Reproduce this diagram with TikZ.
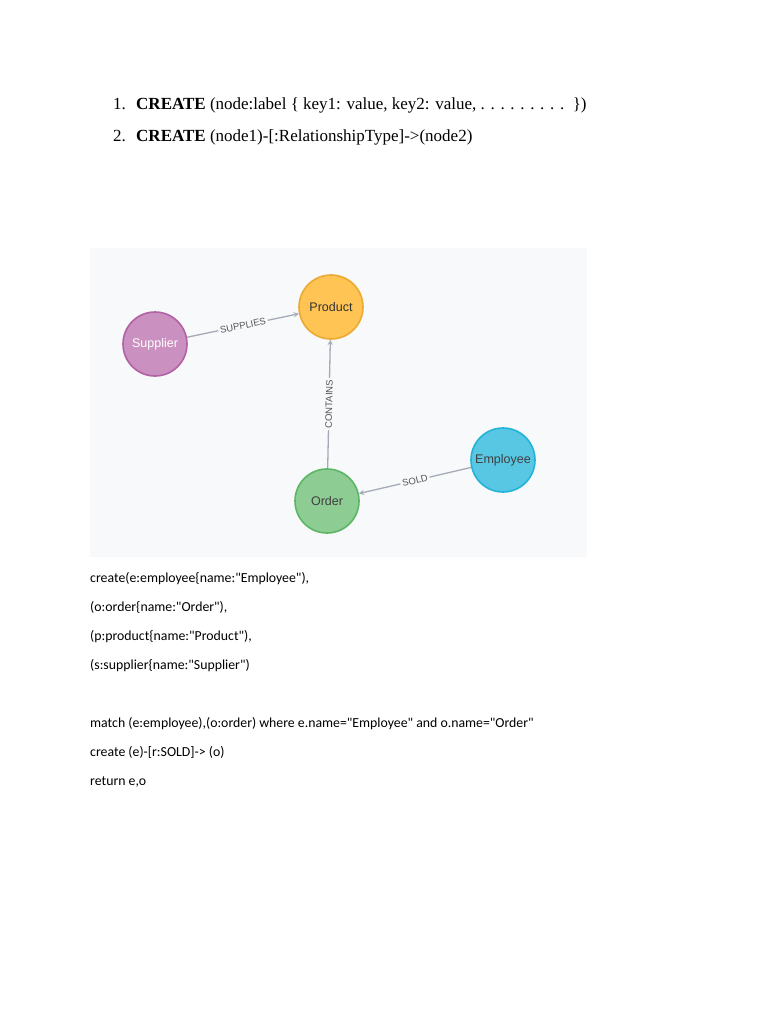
\documentclass[tikz,border=0pt]{standalone}
\usepackage{fontspec}
\usepackage{xcolor}
\usepackage{tikz}
\usetikzlibrary{arrows,positioning,calc}
\setmainfont{Liberation Serif}
\newfontfamily\codefont{Carlito}
\newfontfamily\graphfont{Liberation Sans}
\definecolor{panelbg}{RGB}{247,249,251}
\definecolor{edgegray}{RGB}{165,171,182}
\definecolor{labelgray}{RGB}{85,85,90}
\definecolor{prodfill}{RGB}{255,196,84}
\definecolor{prodline}{RGB}{235,170,50}
\definecolor{suppfill}{RGB}{201,144,192}
\definecolor{suppline}{RGB}{178,97,165}
\definecolor{orderfill}{RGB}{141,204,147}
\definecolor{orderline}{RGB}{93,182,101}
\definecolor{empfill}{RGB}{87,199,227}
\definecolor{empline}{RGB}{35,179,215}

\begin{document}
\begin{tikzpicture}[
    x=1pt, y=-1pt,
    gnode/.style={circle, draw, line width=1.6pt, minimum size=64pt, inner sep=0pt, font=\graphfont\fontsize{12.5}{14}\selectfont},
    rel/.style={->, >=stealth, draw=edgegray, line width=1.3pt},
    rellabel/.style={sloped, fill=panelbg, inner sep=2pt, text=labelgray, font=\graphfont\fontsize{9.5}{11}\selectfont},
    numtext/.style={anchor=base west, inner sep=0pt, font=\fontsize{17}{20}\selectfont},
    codeline/.style={anchor=base west, inner sep=0pt, font=\codefont\fontsize{13.8}{16}\selectfont}
]
    \useasboundingbox (0,0) rectangle (768,1024);

    % syntax lines
    \node[numtext] (num1) at (113,110) {1.};
    \node[numtext] (item1) at (136,110) {\textbf{CREATE} (node:label \{ key1: value, key2: value, . . . . . . . . .\ \ \})};
    \node[numtext] (num2) at (113,142) {2.};
    \node[numtext] (item2) at (136,142) {\textbf{CREATE} (node1)-[:RelationshipType]->(node2)};

    % graph panel
    \fill[panelbg] (90,248) rectangle (587,557);

    \node[gnode, fill=prodfill, draw=prodline, text=black!80] (product) at (331,307) {Product};
    \node[gnode, fill=suppfill, draw=suppline, text=white] (supplier) at (155,344) {Supplier};
    \node[gnode, fill=orderfill, draw=orderline, text=black!75] (order) at (327,501) {Order};
    \node[gnode, fill=empfill, draw=empline, text=black!75] (employee) at (503,460) {Employee};

    \draw[rel] (supplier) -- node[rellabel] (supplies) {SUPPLIES} (product);
    \draw[rel] (order) -- node[rellabel] (contains) {CONTAINS} (product);
    \draw[rel] (employee) -- node[rellabel] (sold) {SOLD} (order);

    % cypher code
    \node[codeline] (c1) at (90,582) {create(e:employee\{name:"Employee"),};
    \node[codeline] (c2) at (90,611) {(o:order\{name:"Order"),};
    \node[codeline] (c3) at (90,640) {(p:product\{name:"Product"),};
    \node[codeline] (c4) at (90,669) {(s:supplier\{name:"Supplier")};
    \node[codeline] (c5) at (90,727) {match (e:employee),(o:order) where e.name="Employee" and o.name="Order"};
    \node[codeline] (c6) at (90,756) {create (e)-[r:SOLD]-> (o)};
    \node[codeline] (c7) at (90,785) {return e,o};
\end{tikzpicture}
\end{document}
